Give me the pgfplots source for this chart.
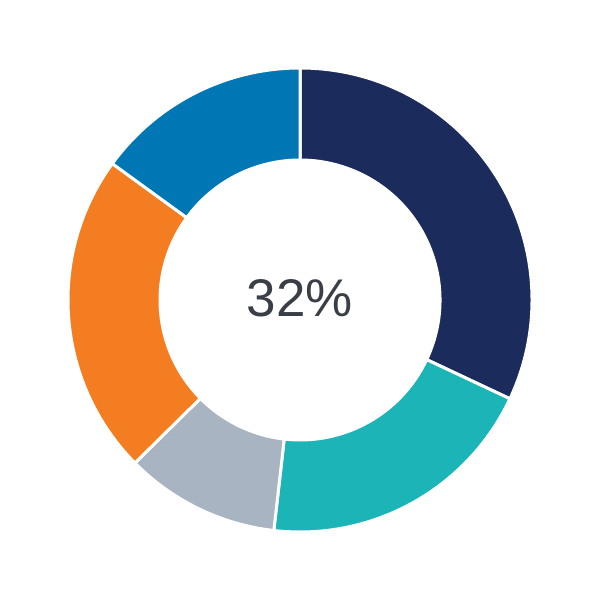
\documentclass[border=0pt]{standalone}
\usepackage{pgfplots}
\usepackage{pgfplotstable}
\usepackage{fontspec}
\setmainfont{Liberation Sans}
\pgfplotsset{compat=1.18}

\definecolor{cNavy}{HTML}{1B2B5B}
\definecolor{cTeal}{HTML}{1CB5B7}
\definecolor{cGray}{HTML}{A9B4C2}
\definecolor{cOrange}{HTML}{F37D20}
\definecolor{cBlue}{HTML}{0077B5}
\definecolor{cText}{HTML}{3A3F47}

% shares in percent, clockwise from 12 o'clock
\pgfplotstableread{
share color
32.0 cNavy
19.8 cTeal
10.8 cGray
22.4 cOrange
15.0 cBlue
}\donutdata

% cumulative start/end angles (degrees, clockwise from top)
\gdef\cum{0}%
\foreach \i in {0,...,4}{%
    \pgfplotstablegetelem{\i}{share}\of\donutdata%
    \pgfmathsetmacro\s{\pgfplotsretval}%
    \pgfplotstablegetelem{\i}{color}\of\donutdata%
    \expandafter\xdef\csname segC\i\endcsname{\pgfplotsretval}%
    \expandafter\xdef\csname segA\i\endcsname{\cum}%
    \pgfmathsetmacro\nxt{\cum+3.6*\s}%
    \xdef\cum{\nxt}%
    \expandafter\xdef\csname segB\i\endcsname{\cum}%
}%

\begin{document}
\begin{tikzpicture}
    \begin{axis}[x=1bp, y=1bp, xmin=-300, xmax=300, ymin=-300, ymax=300,
        hide axis, scale only axis, clip=false]
        \path (axis cs:-300,-300) rectangle (axis cs:300,300);
        \pgfplotsinvokeforeach{0,...,4}{
            \filldraw[fill=\csname segC#1\endcsname, draw=white, line width=3bp]
                (axis cs:{232*cos(90-\csname segA#1\endcsname)},{232*sin(90-\csname segA#1\endcsname)})
                arc[start angle={90-\csname segA#1\endcsname},
                    end angle={90-\csname segB#1\endcsname}, radius=232bp]
                -- (axis cs:{140*cos(90-\csname segB#1\endcsname)},{140*sin(90-\csname segB#1\endcsname)})
                arc[start angle={90-\csname segB#1\endcsname},
                    end angle={90-\csname segA#1\endcsname}, radius=140bp] -- cycle;
        }
        \node[text=cText, font=\fontsize{53bp}{58bp}\selectfont]
            at (axis cs:0,2) {32\%};
    \end{axis}
\end{tikzpicture}
\end{document}
